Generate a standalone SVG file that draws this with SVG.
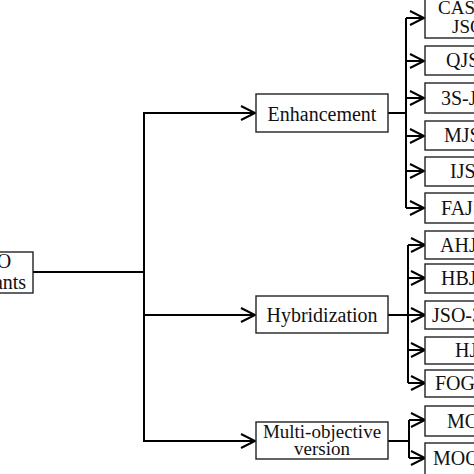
<svg xmlns="http://www.w3.org/2000/svg" width="474" height="474" viewBox="0 0 474 474">
<style>
.box{fill:#fff;stroke:#222;stroke-width:1.4}
.t{font-family:"Liberation Serif","Times New Roman",serif;font-size:20px;fill:#111}
.s{font-size:19px}
.c{text-anchor:middle}
.ln{fill:none;stroke:#000;stroke-width:2}
</style>
<defs>
<marker id="ah" viewBox="-16 -10 20 20" refX="0" refY="0" markerWidth="20" markerHeight="20" orient="auto" markerUnits="userSpaceOnUse">
<path d="M-14,-7 L0,0 L-14,7" fill="none" stroke="#000" stroke-width="2"/>
</marker>
</defs>
<rect width="474" height="474" fill="#fff"/>
<g id="connectors">
<path class="ln" d="M33,272 H144"/>
<path class="ln" d="M144,272 V113 H255" marker-end="url(#ah)"/>
<path class="ln" d="M144,272 V441 H255" marker-end="url(#ah)"/>
<path class="ln" d="M144,315 H255" marker-end="url(#ah)"/>
<path class="ln" d="M388,113 H406 M406,18 V208"/>
<path class="ln" d="M406,18 H424" marker-end="url(#ah)"/>
<path class="ln" d="M406,61 H424" marker-end="url(#ah)"/>
<path class="ln" d="M406,98 H424" marker-end="url(#ah)"/>
<path class="ln" d="M406,136 H424" marker-end="url(#ah)"/>
<path class="ln" d="M406,171 H424" marker-end="url(#ah)"/>
<path class="ln" d="M406,208 H424" marker-end="url(#ah)"/>
<path class="ln" d="M388,315 H408 M408,245 V383"/>
<path class="ln" d="M408,245 H425" marker-end="url(#ah)"/>
<path class="ln" d="M408,278 H425" marker-end="url(#ah)"/>
<path class="ln" d="M408,315 H425" marker-end="url(#ah)"/>
<path class="ln" d="M408,350 H425" marker-end="url(#ah)"/>
<path class="ln" d="M408,383 H425" marker-end="url(#ah)"/>
<path class="ln" d="M388,441 H409 M409,420 V458"/>
<path class="ln" d="M409,420 H425" marker-end="url(#ah)"/>
<path class="ln" d="M409,458 H425" marker-end="url(#ah)"/>
</g>
<g id="root"><rect class="box" x="-45" y="252" width="78" height="41"/><text class="t c" x="-5.5" y="268">JSO</text><text class="t c" x="-5.5" y="289">variants</text></g>
<g id="enhancement"><rect class="box" x="256" y="94" width="132" height="38"/><text class="t c" x="322" y="121">Enhancement</text></g>
<g id="hybridization"><rect class="box" x="256" y="296" width="132" height="37"/><text class="t c" x="322" y="322">Hybridization</text></g>
<g id="multiobjective"><rect class="box" x="256" y="422" width="132" height="37"/><text class="t s c" x="322" y="438">Multi-objective</text><text class="t s c" x="322" y="455">version</text></g>
<g id="cas"><rect class="box" x="425" y="-2" width="80" height="40"/><text class="t s" x="438" y="14">CAS</text><text class="t s" x="452" y="33">JSO</text></g>
<g id="qjso"><rect class="box" x="425" y="46" width="80" height="29"/><text class="t" x="446" y="67">QJSO</text></g>
<g id="s3jso"><rect class="box" x="425" y="83" width="80" height="30"/><text class="t" x="441" y="105">3S-JSO</text></g>
<g id="mjso"><rect class="box" x="425" y="121" width="80" height="29"/><text class="t" x="444" y="142">MJSO</text></g>
<g id="ijso"><rect class="box" x="425" y="157" width="80" height="29"/><text class="t" x="450" y="178">IJSO</text></g>
<g id="fajso"><rect class="box" x="425" y="193" width="80" height="30"/><text class="t" x="441" y="215">FAJSO</text></g>
<g id="ahjso"><rect class="box" x="425" y="231" width="80" height="28"/><text class="t" x="440" y="252">AHJSO</text></g>
<g id="hbjso"><rect class="box" x="425" y="264" width="80" height="29"/><text class="t" x="441" y="285">HBJSO</text></g>
<g id="jso3"><rect class="box" x="425" y="301" width="80" height="28"/><text class="t" x="432" y="322">JSO-3</text></g>
<g id="hj"><rect class="box" x="425" y="337" width="80" height="27"/><text class="t" x="455" y="357">HJ</text></g>
<g id="fog"><rect class="box" x="425" y="370" width="80" height="27"/><text class="t" x="435" y="390">FOG</text></g>
<g id="mc"><rect class="box" x="425" y="406" width="80" height="30"/><text class="t" x="447" y="428">MC</text></g>
<g id="moq"><rect class="box" x="425" y="443" width="80" height="34"/><text class="t" x="433" y="465">MOQJSO</text></g>
</svg>
